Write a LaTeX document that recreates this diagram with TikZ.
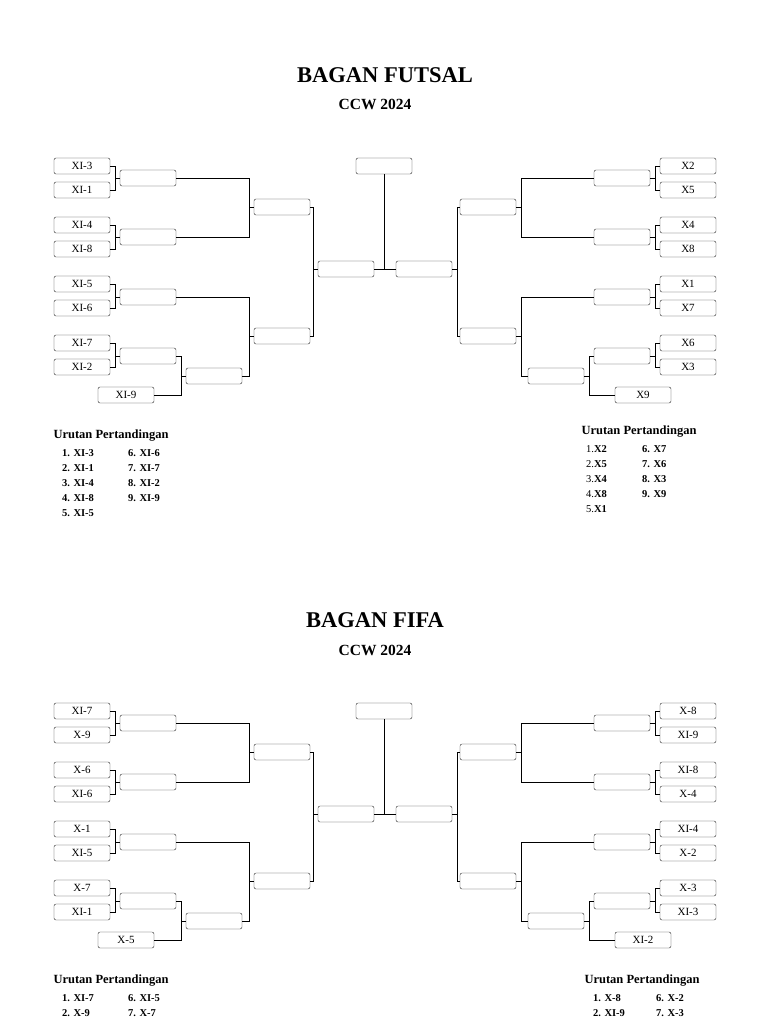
\documentclass[tikz,border=0pt]{standalone}
\usepackage{fontspec}
\setmainfont{Liberation Serif}
\usetikzlibrary{positioning}

\tikzset{%
  slot/.style={draw=black!85,rounded corners=2pt,minimum width=56pt,
    minimum height=16pt,inner sep=0pt,font=\fontsize{11}{11}\selectfont},
  title/.style={font=\fontsize{22.5}{23}\selectfont\bfseries},
  subtitle/.style={font=\fontsize{15.5}{16}\selectfont\bfseries},
  head/.style={font=\fontsize{12.5}{13}\selectfont\bfseries,anchor=west},
  item/.style={font=\fontsize{10.5}{11}\selectfont,anchor=west,inner sep=0pt},
  bitem/.style={item,font=\fontsize{10.5}{11}\selectfont\bfseries}
}
% left to right and right to left links
\newcommand\llink[2]{\draw (#1.east) -| ([xshift=-5pt]#2.west) -- (#2.west);}
\newcommand\rlink[2]{\draw (#1.west) -| ([xshift=5pt]#2.east) -- (#2.east);}

% #1 prefix, #2 y offset, #3 left entries, #4 right entries, #5 left extra, #6 right extra
\newcommand\bagan[6]{%
  \begin{scope}[shift={(0,#2)}]
  \foreach \yy/\lab [count=\i] in {#3}
    \node[slot] (#1L\i) at (82,\yy) {\lab};
  \foreach \yy/\lab [count=\i] in {#4}
    \node[slot] (#1R\i) at (688,\yy) {\lab};
  \node[slot] (#1LX) at (126,395) {#5};
  \node[slot] (#1RX) at (643,395) {#6};
  % empty rounds
  \foreach \yy [count=\i] in {178,237,297,356} {
    \node[slot] (#1La\i) at (148,\yy) {};
    \node[slot] (#1Ra\i) at (622,\yy) {};
  }
  \node[slot] (#1Lb) at (214,376) {};
  \node[slot] (#1Rb) at (556,376) {};
  \node[slot] (#1Lc1) at (282,207) {};
  \node[slot] (#1Lc2) at (282,336) {};
  \node[slot] (#1Rc1) at (488,207) {};
  \node[slot] (#1Rc2) at (488,336) {};
  \node[slot] (#1Ld) at (346,269) {};
  \node[slot] (#1Rd) at (424,269) {};
  \node[slot] (#1top) at (384,166) {};
  % links
  \foreach \a/\b in {1/1,2/1,3/2,4/2,5/3,6/3,7/4,8/4} {
    \llink{#1L\a}{#1La\b}
    \rlink{#1R\a}{#1Ra\b}
  }
  \llink{#1La4}{#1Lb} \llink{#1LX}{#1Lb}
  \rlink{#1Ra4}{#1Rb} \rlink{#1RX}{#1Rb}
  \llink{#1La1}{#1Lc1} \llink{#1La2}{#1Lc1}
  \llink{#1La3}{#1Lc2} \llink{#1Lb}{#1Lc2}
  \rlink{#1Ra1}{#1Rc1} \rlink{#1Ra2}{#1Rc1}
  \rlink{#1Ra3}{#1Rc2} \rlink{#1Rb}{#1Rc2}
  \llink{#1Lc1}{#1Ld} \llink{#1Lc2}{#1Ld}
  \rlink{#1Rc1}{#1Rd} \rlink{#1Rc2}{#1Rd}
  \draw (#1Ld.east) -- (#1Rd.west);
  \draw (#1top.south) -- (#1top.south |- #1Ld.east);
  \end{scope}}

\begin{document}
\begin{tikzpicture}[x=1pt,y=-1pt]
  \useasboundingbox (0,0) rectangle (768,1024);

  % futsal
  \node[title] (t1) at (385,75) {BAGAN FUTSAL};
  \node[subtitle] (s1) at (375,104) {CCW 2024};
  \bagan{f}{0}{166/XI-3,190/XI-1,225/XI-4,249/XI-8,284/XI-5,308/XI-6,343/XI-7,367/XI-2}
    {166/X2,190/X5,225/X4,249/X8,284/X1,308/X7,343/X6,367/X3}{XI-9}{X9}
  \node[head] (fh1) at (50,436) {Urutan Pertandingan};
  \foreach \t [count=\i] in {XI-3,XI-1,XI-4,XI-8,XI-5}
    \node[bitem] (fa\i) at (62,438+15*\i) {\i. \t};
  \foreach \t [count=\i] in {XI-6,XI-7,XI-2,XI-9}
    \node[bitem] (fb\i) at (128,438+15*\i) {\the\numexpr\i+5\relax. \t};
  \node[head] (fh2) at (578,432) {Urutan Pertandingan};
  \foreach \t [count=\i] in {X2,X5,X4,X8,X1}
    \node[item] (fc\i) at (586,434+15*\i) {\i.\textbf{\t}};
  \foreach \t [count=\i] in {X7,X6,X3,X9}
    \node[bitem] (fd\i) at (642,434+15*\i) {\the\numexpr\i+5\relax. \t};

  % fifa
  \node[title] (t2) at (375,620) {BAGAN FIFA};
  \node[subtitle] (s2) at (375,650) {CCW 2024};
  \bagan{g}{545}{166/XI-7,190/X-9,225/X-6,249/XI-6,284/X-1,308/XI-5,343/X-7,367/XI-1}
    {166/X-8,190/XI-9,225/XI-8,249/X-4,284/XI-4,308/X-2,343/X-3,367/XI-3}{X-5}{XI-2}
  \node[head] (gh1) at (50,981) {Urutan Pertandingan};
  \node[bitem] (ga1) at (62,998) {1. XI-7};
  \node[bitem] (ga2) at (62,1013) {2. X-9};
  \node[bitem] (gb1) at (128,998) {6. XI-5};
  \node[bitem] (gb2) at (128,1013) {7. X-7};
  \node[head] (gh2) at (581,981) {Urutan Pertandingan};
  \node[bitem] (gc1) at (593,998) {1. X-8};
  \node[bitem] (gc2) at (593,1013) {2. XI-9};
  \node[bitem] (gd1) at (656,998) {6. X-2};
  \node[bitem] (gd2) at (656,1013) {7. X-3};
\end{tikzpicture}
\end{document}
